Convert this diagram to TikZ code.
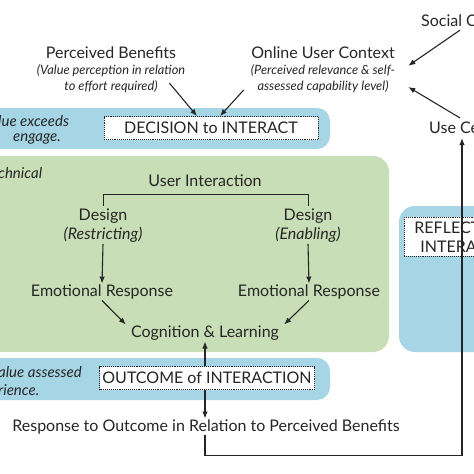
\documentclass[tikz,border=0pt]{standalone}
\usepackage{fontspec}
\setmainfont{Lato}
\usetikzlibrary{positioning,arrows.meta}
\definecolor{bandblue}{RGB}{166,213,229}
\definecolor{techgreen}{RGB}{200,222,182}
\definecolor{ink}{RGB}{38,38,38}

\begin{document}
\begin{tikzpicture}[x=1pt,y=-1pt,>={Latex[length=7pt,width=5.5pt]},
  every node/.style={text=ink,inner sep=1pt},
  lbl/.style={font=\fontsize{16}{19}\selectfont,align=center},
  note/.style={font=\fontsize{12.8}{16}\selectfont\itshape,align=center},
  bandnote/.style={font=\fontsize{15}{18}\selectfont\itshape,anchor=west},
  stagebox/.style={lbl,draw=ink,densely dotted,line width=0.9pt,fill=white},
  link/.style={->,draw=ink,line width=1.1pt},
  rule/.style={draw=ink,line width=1pt}]
  \useasboundingbox (0,0) rectangle (474,474);
  \clip (0,0) rectangle (474,474);

  \fill[bandblue,rounded corners=13pt] (-40,108) rectangle (330,149);
  \fill[techgreen,rounded corners=16pt] (-40,156) rectangle (389,352);
  \fill[bandblue,rounded corners=16pt] (399,206) rectangle (520,352);
  \fill[bandblue,rounded corners=13pt] (-40,358) rectangle (330,400);

  \node[lbl] (benefits) at (111,53) {Perceived Benefits};
  \node[note] (benefitsnote) at (111,79) {(Value perception in relation\\to effort required)};
  \node[lbl] (context) at (323,53) {Online User Context};
  \node[note] (contextnote) at (323,79) {(Perceived relevance \& self-\\assessed capability level)};
  \node[lbl,anchor=west] (social) at (420,21) {Social C};
  \node[lbl,anchor=west] (usec) at (428,128) {Use Ce};

  \node[bandnote] (decnotea) at (-3,121) {lue exceeds};
  \node[bandnote] (decnoteb) at (12,139) {engage.};
  \node[stagebox,minimum width=214pt,minimum height=23pt] (decision) at (211,128) {DECISION to INTERACT};

  \node[bandnote] (technote) at (-3,173) {chnical};
  \node[lbl] (userint) at (205,181) {User Interaction};
  \node[lbl] (designr) at (103,226) {Design\\\textit{(Restricting)}};
  \node[lbl] (designe) at (308,226) {Design\\\textit{(Enabling)}};
  \node[lbl] (emor) at (102,292) {Emotional Response};
  \node[lbl] (emoe) at (309,292) {Emotional Response};
  \node[lbl] (cognition) at (205,333) {Cognition \& Learning};

  \node[bandnote] (outnotea) at (-3,372) {alue assessed};
  \node[bandnote] (outnoteb) at (-3,390) {rience.};
  \node[stagebox,minimum width=215pt,minimum height=23pt] (outcome) at (207,378) {OUTCOME of INTERACTION};
  \node[lbl] (response) at (206,427) {Response to Outcome in Relation to Perceived Benefits};

  \node[stagebox,anchor=north west,minimum width=90pt,minimum height=39pt,align=left,text width=70pt,inner xsep=9pt] (reflect) at (404,217) {REFLECT\\\hspace*{6pt}INTERA};

  \draw[link] ([xshift=-17pt,yshift=-4pt]benefitsnote.east) -- ([xshift=-14pt]decision.north);
  \draw[link] ([xshift=-6pt,yshift=-11pt]contextnote.west) -- ([xshift=9pt]decision.north);
  \draw[link] ([xshift=40pt,yshift=-2pt]social.south west) -- ([xshift=12pt,yshift=-2pt]contextnote.north east);
  \draw[link] ([xshift=32pt,yshift=3pt]usec.north west) -- ([xshift=12pt,yshift=-8pt]contextnote.east);

  \draw[rule] ([yshift=2pt]designr.north) |- ([yshift=-6pt]userint.south) -| ([yshift=2pt]designe.north);
  \draw[link] (designr.south) -- (emor.north);
  \draw[link] (designe.south) -- (emoe.north);
  \draw[link] (emor.south) -- ([xshift=-4pt]cognition.north west);
  \draw[link] (emoe.south) -- ([xshift=4pt]cognition.north east);

  \draw[link] (outcome.north -| cognition.south) -- (cognition.south);
  \draw[link] (outcome.south -| cognition.south) -- (response.north -| cognition.south);
  \draw[link] (response.south -| cognition.south) -- ++(0,20) -| ([xshift=34pt,yshift=-3pt]usec.south west);
\end{tikzpicture}
\end{document}
